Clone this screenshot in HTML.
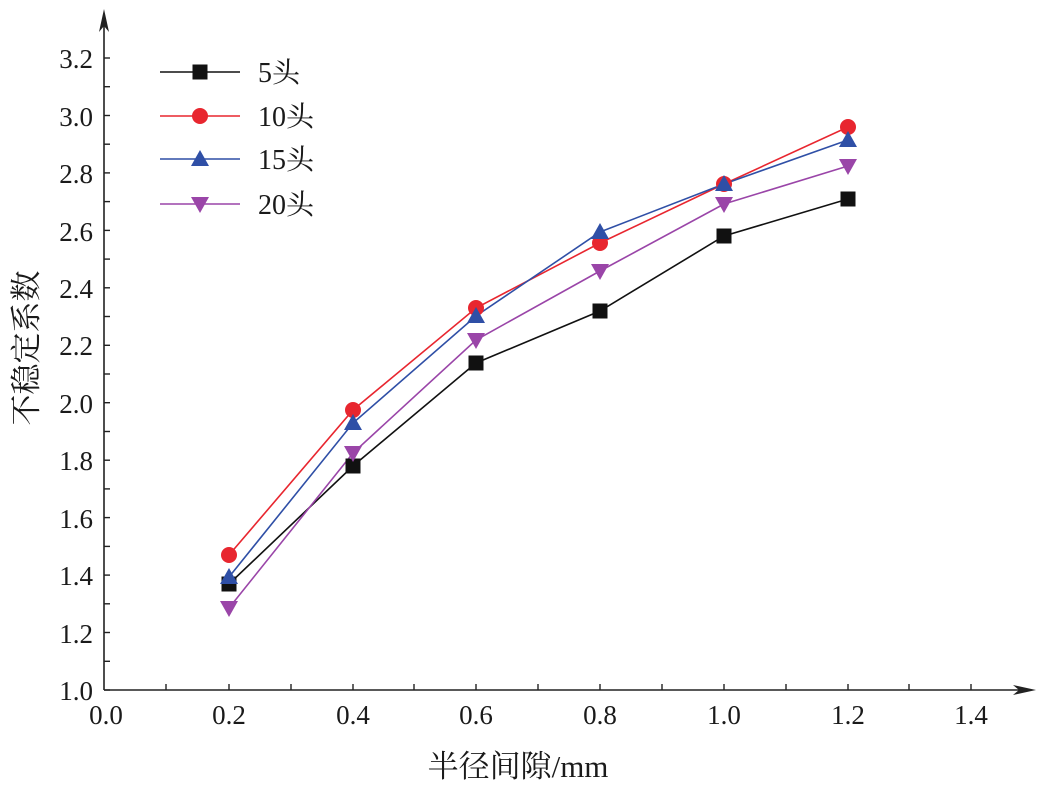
<!DOCTYPE html>
<html><head><meta charset="utf-8"><style>
html,body{margin:0;padding:0;background:#fff;}
svg text{font-family:"Liberation Serif","Noto Serif CJK SC",serif;fill:#1a1a1a;}
</style></head><body>
<svg width="1041" height="787" viewBox="0 0 1041 787" xmlns="http://www.w3.org/2000/svg">
<defs>
<g id="sq"><rect x="-7.5" y="-7.5" width="15" height="15" fill="#111"/></g>
<g id="ci"><circle r="8" fill="#e8262f"/></g>
<g id="tu"><polygon points="0,-9 9,7 -9,7" fill="#2f4fa6"/></g>
<g id="td"><polygon points="0,9 9,-7 -9,-7" fill="#9a45a8"/></g>
</defs>
<g stroke="#222" stroke-width="1.6" fill="none">
<line x1="104" y1="690" x2="104" y2="18"/>
<line x1="104" y1="690" x2="1028" y2="690"/>
</g>
<polygon points="104,9 99,32 104,26 109,32" fill="#222"/>
<polygon points="1036,690 1013,685 1019,690 1013,695" fill="#222"/>
<g stroke="#222" stroke-width="1.4">
<line x1="104" y1="690" x2="110" y2="690"/><line x1="104" y1="661.3" x2="110" y2="661.3"/>
<line x1="104" y1="632.5" x2="110" y2="632.5"/><line x1="104" y1="603.8" x2="110" y2="603.8"/>
<line x1="104" y1="575.1" x2="110" y2="575.1"/><line x1="104" y1="546.4" x2="110" y2="546.4"/>
<line x1="104" y1="517.6" x2="110" y2="517.6"/><line x1="104" y1="488.9" x2="110" y2="488.9"/>
<line x1="104" y1="460.2" x2="110" y2="460.2"/><line x1="104" y1="431.5" x2="110" y2="431.5"/>
<line x1="104" y1="402.7" x2="110" y2="402.7"/><line x1="104" y1="374" x2="110" y2="374"/>
<line x1="104" y1="345.3" x2="110" y2="345.3"/><line x1="104" y1="316.5" x2="110" y2="316.5"/>
<line x1="104" y1="287.8" x2="110" y2="287.8"/><line x1="104" y1="259.1" x2="110" y2="259.1"/>
<line x1="104" y1="230.4" x2="110" y2="230.4"/><line x1="104" y1="201.6" x2="110" y2="201.6"/>
<line x1="104" y1="172.9" x2="110" y2="172.9"/><line x1="104" y1="144.2" x2="110" y2="144.2"/>
<line x1="104" y1="115.5" x2="110" y2="115.5"/><line x1="104" y1="86.7" x2="110" y2="86.7"/>
<line x1="104" y1="58" x2="110" y2="58"/>
<line x1="166" y1="690" x2="166" y2="684"/><line x1="229" y1="690" x2="229" y2="684"/>
<line x1="291" y1="690" x2="291" y2="684"/><line x1="353" y1="690" x2="353" y2="684"/>
<line x1="414" y1="690" x2="414" y2="684"/><line x1="476" y1="690" x2="476" y2="684"/>
<line x1="538" y1="690" x2="538" y2="684"/><line x1="600" y1="690" x2="600" y2="684"/>
<line x1="662" y1="690" x2="662" y2="684"/><line x1="724" y1="690" x2="724" y2="684"/>
<line x1="786" y1="690" x2="786" y2="684"/><line x1="848" y1="690" x2="848" y2="684"/>
<line x1="909" y1="690" x2="909" y2="684"/><line x1="971" y1="690" x2="971" y2="684"/>
</g>
<g font-size="27" text-anchor="end">
<text x="93" y="700">1.0</text><text x="93" y="643">1.2</text><text x="93" y="585">1.4</text>
<text x="93" y="528">1.6</text><text x="93" y="470">1.8</text><text x="93" y="413">2.0</text>
<text x="93" y="355">2.2</text><text x="93" y="298">2.4</text><text x="93" y="241">2.6</text>
<text x="93" y="183">2.8</text><text x="93" y="126">3.0</text><text x="93" y="68">3.2</text>
</g>
<g font-size="27" text-anchor="middle">
<text x="106" y="724">0.0</text><text x="229" y="724">0.2</text><text x="353" y="724">0.4</text>
<text x="476" y="724">0.6</text><text x="600" y="724">0.8</text><text x="724" y="724">1.0</text>
<text x="848" y="724">1.2</text><text x="971" y="724">1.4</text>
</g>
<text x="518" y="777" font-size="31" text-anchor="middle">半径间隙/mm</text>
<text transform="translate(37,348) rotate(-90)" font-size="31" text-anchor="middle">不稳定系数</text>
<polyline fill="none" stroke="#111" stroke-width="1.6" points="229,584 353,466 476,363 600,311 724,236 848,199"/>
<polyline fill="none" stroke="#e8262f" stroke-width="1.6" points="229,555 353,410 476,308 600,243 724,184 848,127"/>
<polyline fill="none" stroke="#2f4fa6" stroke-width="1.6" points="229,577 353,423 476,316 600,232 724,184 848,140"/>
<polyline fill="none" stroke="#9a45a8" stroke-width="1.6" points="229,608 353,453 476,340 600,271 724,204 848,166"/>
<use href="#sq" x="229" y="584"/><use href="#sq" x="353" y="466"/><use href="#sq" x="476" y="363"/><use href="#sq" x="600" y="311"/><use href="#sq" x="724" y="236"/><use href="#sq" x="848" y="199"/>
<use href="#ci" x="229" y="555"/><use href="#ci" x="353" y="410"/><use href="#ci" x="476" y="308"/><use href="#ci" x="600" y="243"/><use href="#ci" x="724" y="184"/><use href="#ci" x="848" y="127"/>
<use href="#tu" x="229" y="577"/><use href="#tu" x="353" y="423"/><use href="#tu" x="476" y="316"/><use href="#tu" x="600" y="232"/><use href="#tu" x="724" y="184"/><use href="#tu" x="848" y="140"/>
<use href="#td" x="229" y="608"/><use href="#td" x="353" y="453"/><use href="#td" x="476" y="340"/><use href="#td" x="600" y="271"/><use href="#td" x="724" y="204"/><use href="#td" x="848" y="166"/>
<line x1="160" y1="72" x2="240" y2="72" stroke="#111" stroke-width="1.6"/><use href="#sq" x="200" y="72"/>
<line x1="160" y1="116" x2="240" y2="116" stroke="#e8262f" stroke-width="1.6"/><use href="#ci" x="200" y="116"/>
<line x1="160" y1="159" x2="240" y2="159" stroke="#2f4fa6" stroke-width="1.6"/><use href="#tu" x="200" y="159"/>
<line x1="160" y1="204" x2="240" y2="204" stroke="#9a45a8" stroke-width="1.6"/><use href="#td" x="200" y="204"/>
<g font-size="28">
<text x="258" y="82">5头</text><text x="258" y="126">10头</text>
<text x="258" y="169">15头</text><text x="258" y="214">20头</text>
</g>
</svg>
</body></html>
